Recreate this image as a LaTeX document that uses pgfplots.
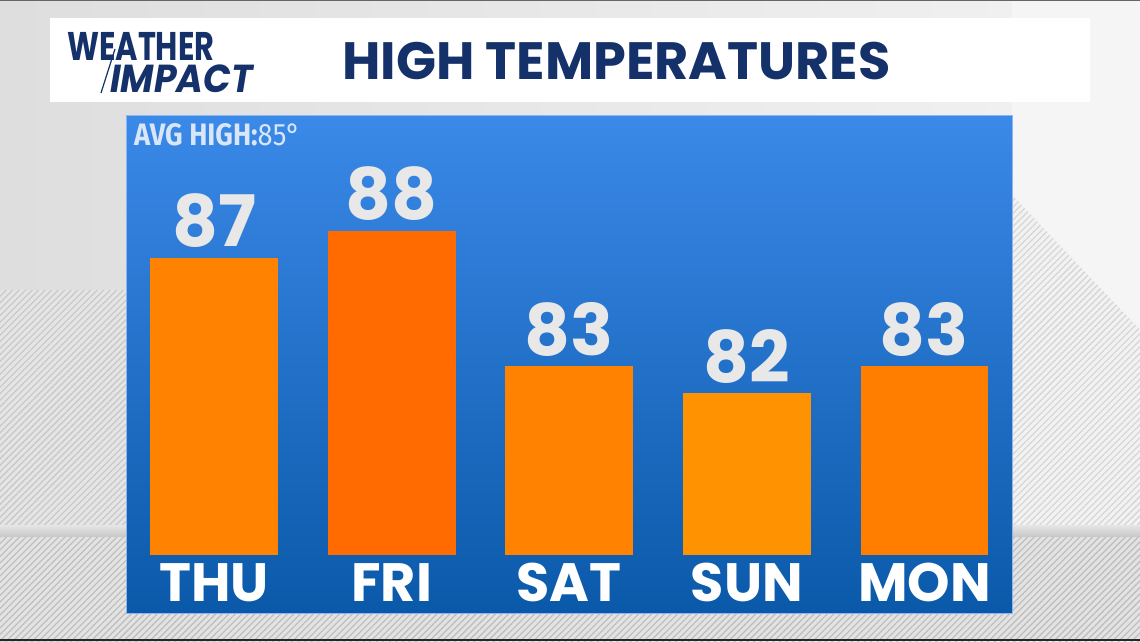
\documentclass[border=0pt]{standalone}
\usepackage{pgfplots}
\pgfplotsset{compat=1.18}
\usepackage{fontspec}
\usetikzlibrary{patterns.meta}
\setmainfont{Poppins}
\newfontfamily\fira{Fira Sans}
\definecolor{navy}{HTML}{14316A}
\definecolor{blueTop}{HTML}{3B89E8}
\definecolor{blueBot}{HTML}{0A59A9}
\definecolor{valgrey}{HTML}{E8E8E8}
\definecolor{oThu}{HTML}{FF8200}
\definecolor{oFri}{HTML}{FF6B00}
\definecolor{oSat}{HTML}{FF8200}
\definecolor{oSun}{HTML}{FF9200}
\definecolor{oMon}{HTML}{FF7E00}
\definecolor{avgcol}{HTML}{D8E6F8}
\begin{document}
\begin{tikzpicture}[x=1pt,y=1pt]
\useasboundingbox (0,0) rectangle (1140,641);
\begin{scope}
\clip (0,0) rectangle (1140,641);
% background
\fill[left color=black!13, right color=black!5] (0,0) rectangle (1140,641);
\fill[black!10] (0,351) rectangle (1140,116);
\fill[pattern={Lines[angle=45,distance=4.6pt,line width=1.3pt]}, pattern color=black!21] (0,351) rectangle (1140,116);
% light right region
\fill[black!4] (1012,641) -- (1140,641) -- (1140,311) -- (1012,446) -- cycle;
\fill[black!5] (1012,446) -- (1140,311) -- (1140,116) -- (1012,116) -- cycle;
\fill[pattern={Lines[angle=45,distance=4.6pt,line width=1.3pt]}, pattern color=black!16] (1012,446) -- (1140,311) -- (1140,116) -- (1012,116) -- cycle;
% shadow band
\fill[top color=black!10, bottom color=black!22] (0,116) rectangle (1140,104);
\fill[black!11] (0,0) rectangle (1140,104);
\fill[pattern={Lines[angle=45,distance=4.6pt,line width=1.3pt]}, pattern color=black!25] (0,0) rectangle (1140,104);
\fill[black!85] (0,0) rectangle (1140,2.5);
\fill[black!60] (0,640) rectangle (1140,641);
\end{scope}
% header
\fill[white] (50,623) rectangle (1090,539);
\node[anchor=base, inner sep=0, text=navy, font=\bfseries\fontsize{52.5}{52.5}\selectfont] at (616.5,561) {HIGH TEMPERATURES};
\node[anchor=base west, inner sep=0, text=navy, font=\bfseries] at (67,580)
  {\rlap{\scalebox{0.76}[1]{\fontsize{40}{40}\selectfont WEATHER}}\raisebox{-32pt}{\hspace*{43pt}\scalebox{0.93}[1]{\fontsize{39}{39}\selectfont\itshape IMPACT}}};
\draw[navy, line width=1.2pt] (115,592) -- (101,548);
% chart
\begin{axis}[
  at={(126pt,28pt)}, anchor=south west, scale only axis,
  width=886pt, height=498pt,
  xmin=-0.4955, xmax=4.493, ymin=-2.148, ymax=16.296,
  ybar, bar width=0.72, bar shift=0pt,
  axis line style={draw=none}, major tick length=0pt, ytick=\empty,
  xtick={0,1,2,3,4}, xticklabels={THU,FRI,SAT,SUN,MON},
  xticklabel style={anchor=base, yshift=12pt, text=white, font=\bfseries\fontsize{54}{54}\selectfont},
  axis background/.style={top color=blueTop, bottom color=blueBot},
  point meta=explicit symbolic,
  nodes near coords,
  nodes near coords style={anchor=base, yshift=11pt, inner sep=0pt, text=valgrey, font=\bfseries\fontsize{71}{71}\selectfont},
  clip=false,
]
\addplot[draw=none, fill=oThu] table[row sep=\\, y expr=\thisrow{t}-76, meta=t] {x t\\ 0 87\\};
\addplot[draw=none, fill=oFri] table[row sep=\\, y expr=\thisrow{t}-76, meta=t] {x t\\ 1 88\\};
\addplot[draw=none, fill=oSat] table[row sep=\\, y expr=\thisrow{t}-76, meta=t] {x t\\ 2 83\\};
\addplot[draw=none, fill=oSun] table[row sep=\\, y expr=\thisrow{t}-76, meta=t] {x t\\ 3 82\\};
\addplot[draw=none, fill=oMon] table[row sep=\\, y expr=\thisrow{t}-76, meta=t] {x t\\ 4 83\\};
\end{axis}
\draw[blueTop!60!white, line width=0.8pt] (126,28) rectangle (1012,526);
\node[anchor=base west, inner sep=0, text=avgcol, xscale=0.88, font=\fira\fontsize{31}{31}\selectfont] at (134,495) {\textbf{AVG HIGH:}85°};
\end{tikzpicture}
\end{document}
